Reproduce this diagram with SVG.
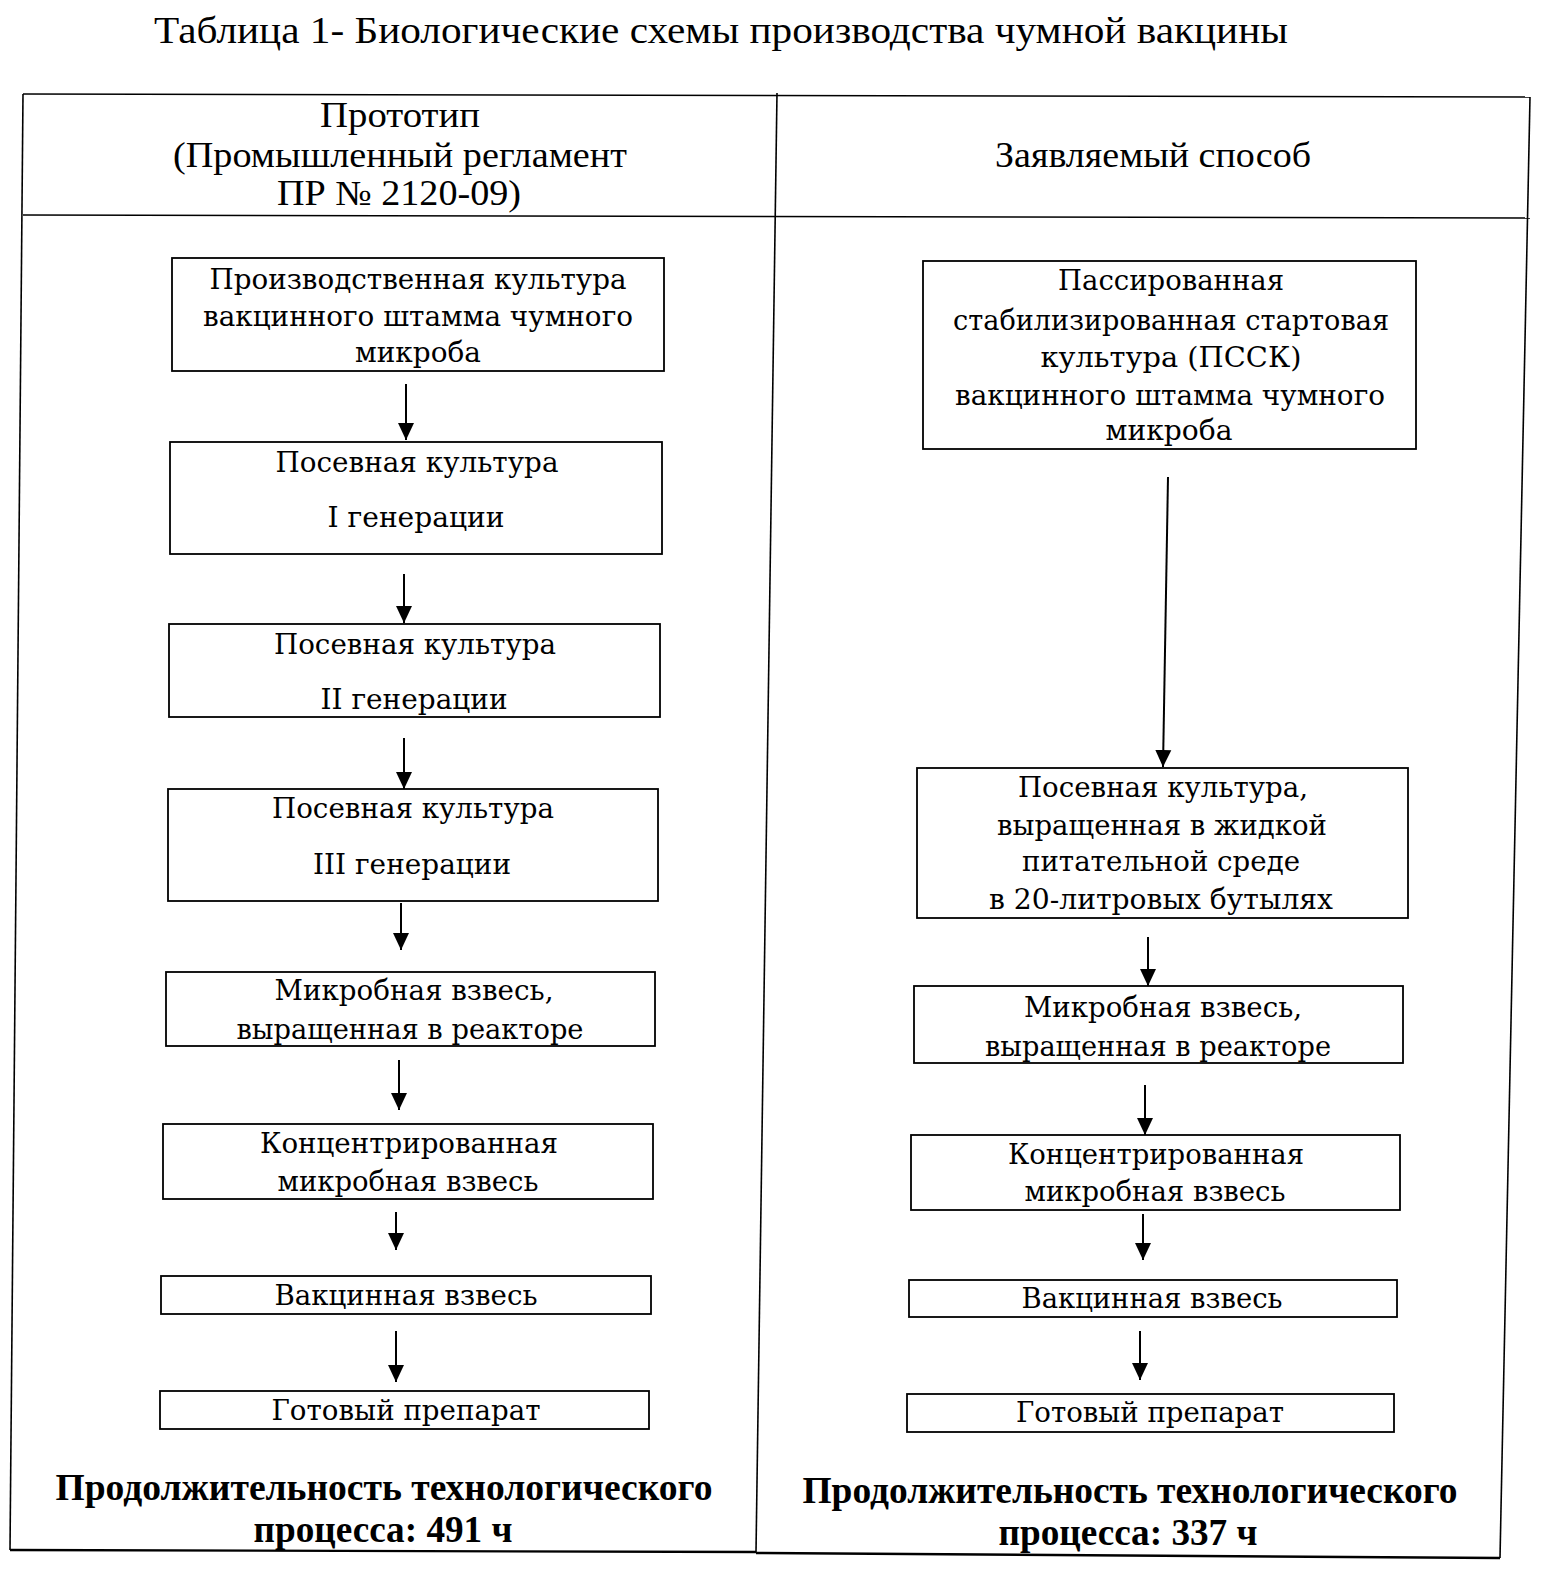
<svg xmlns="http://www.w3.org/2000/svg" width="1543" height="1593" viewBox="0 0 1543 1593">
<style>
.tl{fill:none;stroke:#000;stroke-width:1.6}
.bx{fill:#fff;stroke:#000;stroke-width:1.8}
.ttl{font-family:"Liberation Serif",serif;font-size:37px;fill:#000;text-anchor:middle}
.hd{font-family:"Liberation Serif",serif;font-size:35px;fill:#000;text-anchor:middle}
.t{font-family:"DejaVu Serif","Liberation Serif",serif;font-size:27px;fill:#000;text-anchor:middle}
.b{font-family:"Liberation Serif",serif;font-size:38px;font-weight:bold;fill:#000;text-anchor:middle}
.ar{stroke:#000;stroke-width:2;fill:none;marker-end:url(#ah)}
</style>
<defs>
<marker id="ah" markerUnits="userSpaceOnUse" markerWidth="18" markerHeight="18" viewBox="0 0 18 18" refX="17" refY="9" orient="auto">
<path d="M0,1 L17,9 L0,17 Z" fill="#000"/>
</marker>
</defs>
<rect width="1543" height="1593" fill="#fff"/>
<text id="title" class="ttl" x="721" y="43" textLength="1134" lengthAdjust="spacingAndGlyphs">Таблица 1- Биологические схемы производства чумной вакцины</text>
<g id="table">
<line class="tl" x1="23" y1="94" x2="1530" y2="97"/>
<line class="tl" x1="23" y1="215" x2="1530" y2="218"/>
<line class="tl" x1="23" y1="94" x2="10" y2="1550"/>
<line class="tl" x1="777" y1="93" x2="756" y2="1552"/>
<line class="tl" x1="1530" y1="97" x2="1500" y2="1558"/>
<line class="tl" style="stroke-width:2.4" x1="10" y1="1550" x2="756" y2="1552"/>
<line class="tl" style="stroke-width:2.4" x1="756" y1="1553" x2="1500" y2="1558"/>
</g>
<g id="hdr-left">
<text class="hd" x="400" y="127" textLength="160" lengthAdjust="spacingAndGlyphs">Прототип</text>
<text class="hd" x="400" y="167" textLength="454" lengthAdjust="spacingAndGlyphs">(Промышленный регламент</text>
<text class="hd" x="399" y="205" textLength="244" lengthAdjust="spacingAndGlyphs">ПР № 2120-09)</text>
</g>
<g id="hdr-right">
<text class="hd" x="1153" y="167" textLength="316" lengthAdjust="spacingAndGlyphs">Заявляемый способ</text>
</g>
<g id="L1">
<rect class="bx" x="172" y="258" width="492" height="113"/>
<text class="t" x="418" y="289" textLength="417" lengthAdjust="spacingAndGlyphs">Производственная культура</text>
<text class="t" x="418" y="326" textLength="430" lengthAdjust="spacingAndGlyphs">вакцинного штамма чумного</text>
<text class="t" x="418" y="362" textLength="126" lengthAdjust="spacingAndGlyphs">микроба</text>
</g>
<g id="L2">
<rect class="bx" x="170" y="442" width="492" height="112"/>
<text class="t" x="417" y="472" textLength="283" lengthAdjust="spacingAndGlyphs">Посевная культура</text>
<text class="t" x="416" y="527" textLength="177" lengthAdjust="spacingAndGlyphs">I генерации</text>
</g>
<g id="L3">
<rect class="bx" x="169" y="624" width="491" height="93"/>
<text class="t" x="415" y="654" textLength="282" lengthAdjust="spacingAndGlyphs">Посевная культура</text>
<text class="t" x="414" y="709" textLength="187" lengthAdjust="spacingAndGlyphs">II генерации</text>
</g>
<g id="L4">
<rect class="bx" x="168" y="789" width="490" height="112"/>
<text class="t" x="413" y="818" textLength="282" lengthAdjust="spacingAndGlyphs">Посевная культура</text>
<text class="t" x="412" y="874" textLength="198" lengthAdjust="spacingAndGlyphs">III генерации</text>
</g>
<g id="L5">
<rect class="bx" x="166" y="972" width="489" height="74"/>
<text class="t" x="414" y="1000" textLength="279" lengthAdjust="spacingAndGlyphs">Микробная взвесь,</text>
<text class="t" x="410" y="1039" textLength="347" lengthAdjust="spacingAndGlyphs">выращенная в реакторе</text>
</g>
<g id="L6">
<rect class="bx" x="163" y="1124" width="490" height="75"/>
<text class="t" x="409" y="1153" textLength="298" lengthAdjust="spacingAndGlyphs">Концентрированная</text>
<text class="t" x="408" y="1191" textLength="261" lengthAdjust="spacingAndGlyphs">микробная взвесь</text>
</g>
<g id="L7">
<rect class="bx" x="161" y="1276" width="490" height="38"/>
<text class="t" x="406" y="1305" textLength="263" lengthAdjust="spacingAndGlyphs">Вакцинная взвесь</text>
</g>
<g id="L8">
<rect class="bx" x="160" y="1391" width="489" height="38"/>
<text class="t" x="406" y="1420" textLength="269" lengthAdjust="spacingAndGlyphs">Готовый препарат</text>
</g>
<g id="L-total">
<text class="b" x="384" y="1500" textLength="657" lengthAdjust="spacingAndGlyphs">Продолжительность технологического</text>
<text class="b" x="383" y="1542" textLength="259" lengthAdjust="spacingAndGlyphs">процесса: 491 ч</text>
</g>
<g id="R1">
<rect class="bx" x="923" y="261" width="493" height="188"/>
<text class="t" x="1171" y="290" textLength="226" lengthAdjust="spacingAndGlyphs">Пассированная</text>
<text class="t" x="1171" y="330" textLength="436" lengthAdjust="spacingAndGlyphs">стабилизированная стартовая</text>
<text class="t" x="1171" y="367" textLength="261" lengthAdjust="spacingAndGlyphs">культура (ПССК)</text>
<text class="t" x="1170" y="405" textLength="430" lengthAdjust="spacingAndGlyphs">вакцинного штамма чумного</text>
<text class="t" x="1169" y="440" textLength="127" lengthAdjust="spacingAndGlyphs">микроба</text>
</g>
<g id="R2">
<rect class="bx" x="917" y="768" width="491" height="150"/>
<text class="t" x="1163" y="797" textLength="290" lengthAdjust="spacingAndGlyphs">Посевная культура,</text>
<text class="t" x="1162" y="835" textLength="330" lengthAdjust="spacingAndGlyphs">выращенная в жидкой</text>
<text class="t" x="1161" y="871" textLength="278" lengthAdjust="spacingAndGlyphs">питательной среде</text>
<text class="t" x="1161" y="909" textLength="344" lengthAdjust="spacingAndGlyphs">в 20-литровых бутылях</text>
</g>
<g id="R3">
<rect class="bx" x="914" y="986" width="489" height="77"/>
<text class="t" x="1163" y="1017" textLength="278" lengthAdjust="spacingAndGlyphs">Микробная взвесь,</text>
<text class="t" x="1158" y="1056" textLength="346" lengthAdjust="spacingAndGlyphs">выращенная в реакторе</text>
</g>
<g id="R4">
<rect class="bx" x="911" y="1135" width="489" height="75"/>
<text class="t" x="1156" y="1164" textLength="296" lengthAdjust="spacingAndGlyphs">Концентрированная</text>
<text class="t" x="1155" y="1201" textLength="261" lengthAdjust="spacingAndGlyphs">микробная взвесь</text>
</g>
<g id="R5">
<rect class="bx" x="909" y="1280" width="488" height="37"/>
<text class="t" x="1152" y="1308" textLength="261" lengthAdjust="spacingAndGlyphs">Вакцинная взвесь</text>
</g>
<g id="R6">
<rect class="bx" x="907" y="1394" width="487" height="38"/>
<text class="t" x="1150" y="1422" textLength="268" lengthAdjust="spacingAndGlyphs">Готовый препарат</text>
</g>
<g id="R-total">
<text class="b" x="1130" y="1503" textLength="655" lengthAdjust="spacingAndGlyphs">Продолжительность технологического</text>
<text class="b" x="1128" y="1545" textLength="259" lengthAdjust="spacingAndGlyphs">процесса: 337 ч</text>
</g>
<g id="connectors">
<line class="ar" x1="406" y1="384" x2="406" y2="440"/>
<line class="ar" x1="404" y1="574" x2="404" y2="623"/>
<line class="ar" x1="404" y1="738" x2="404" y2="789"/>
<line class="ar" x1="401" y1="903" x2="401" y2="950"/>
<line class="ar" x1="399" y1="1060" x2="399" y2="1110"/>
<line class="ar" x1="396" y1="1212" x2="396" y2="1250"/>
<line class="ar" x1="396" y1="1331" x2="396" y2="1382"/>
<line class="ar" x1="1168" y1="477" x2="1163" y2="767"/>
<line class="ar" x1="1148" y1="937" x2="1148" y2="986"/>
<line class="ar" x1="1145" y1="1085" x2="1145" y2="1135"/>
<line class="ar" x1="1143" y1="1214" x2="1143" y2="1260"/>
<line class="ar" x1="1140" y1="1331" x2="1140" y2="1380"/>
</g>
</svg>
